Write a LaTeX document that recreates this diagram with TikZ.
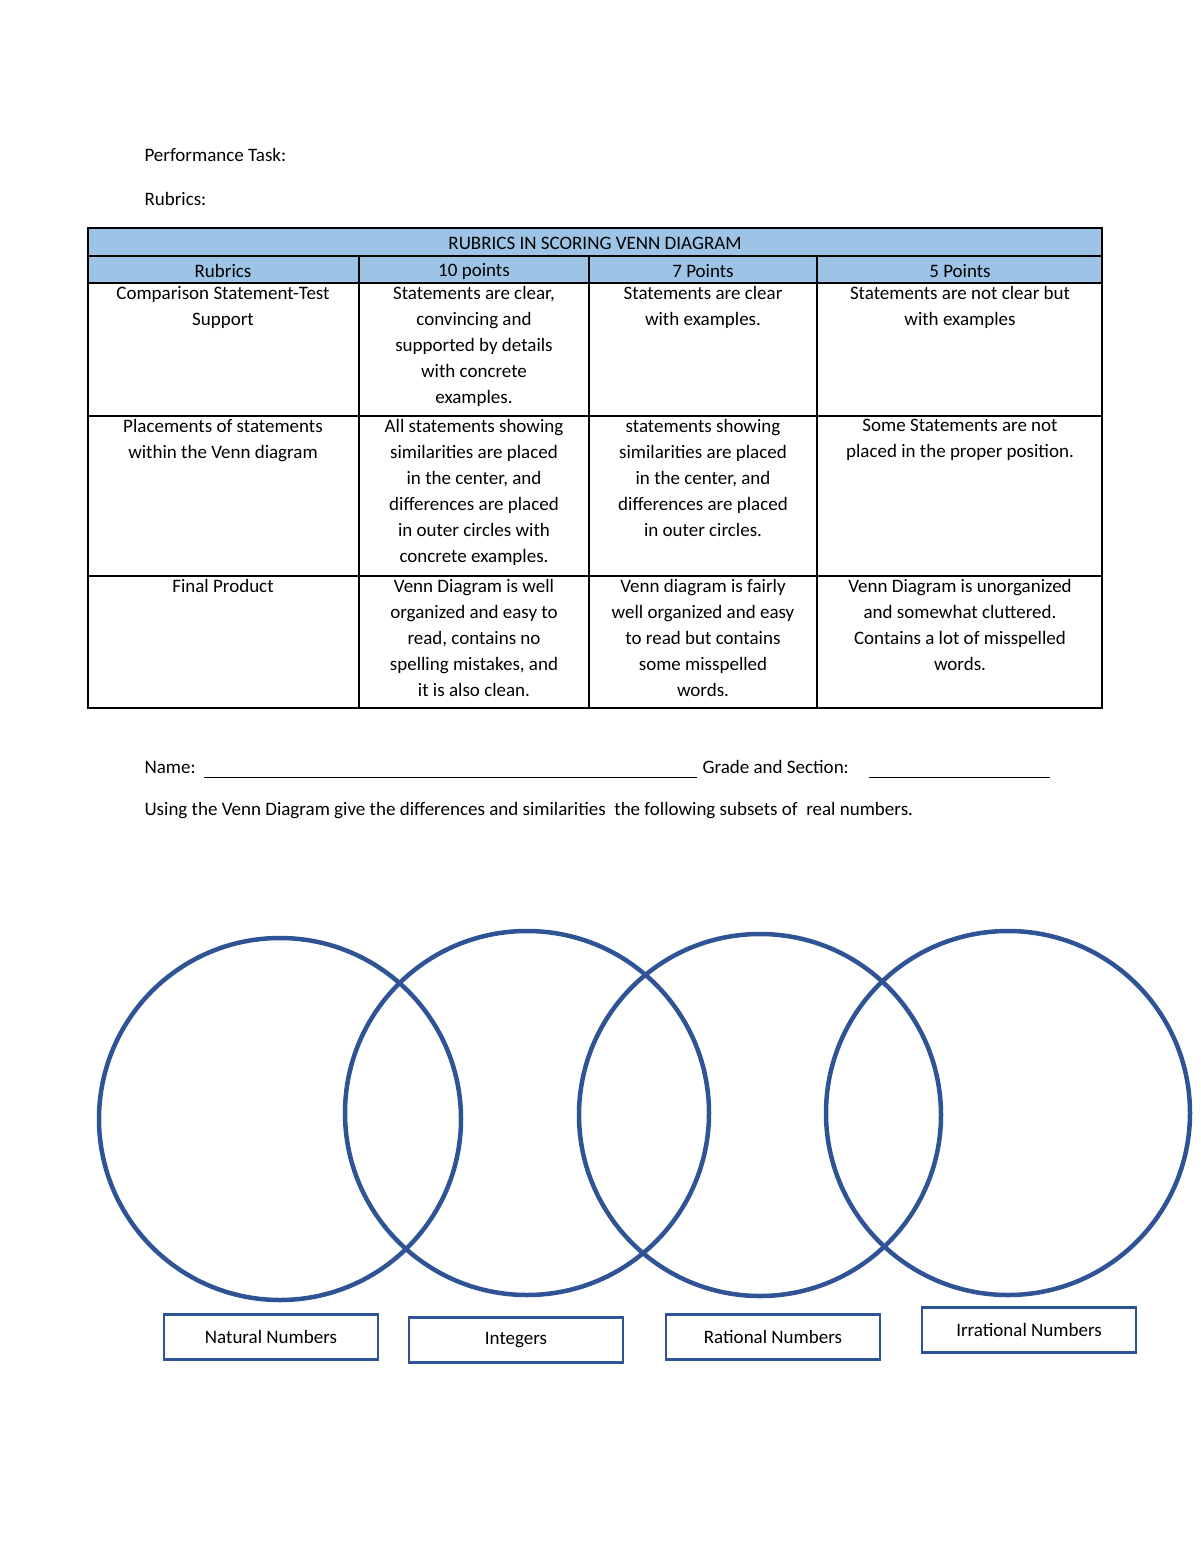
\documentclass[tikz,border=0pt]{standalone}
\usepackage{fontspec}
\setmainfont{Carlito}
\definecolor{hdr}{RGB}{157,195,230}
\definecolor{vb}{RGB}{47,84,150}
\begin{document}
\begin{tikzpicture}[x=1pt,y=-1pt,
 every node/.style={font=\fontsize{19}{26}\selectfont},
 cell/.style={align=center,anchor=north,inner sep=0pt},
 circ/.style={draw=vb,line width=4.5pt},
 lbox/.style={draw=vb,line width=2.5pt,minimum width=214pt,minimum height=45pt,inner sep=0pt}]
\useasboundingbox (0,0) rectangle (1200,1553);
\node[anchor=west] (pt) at (141,155) {Performance Task:};
\node[anchor=west] (rb) at (141,199) {Rubrics:};
% table
\fill[hdr] (88,228) rectangle (1102,283);
\draw[line width=1.2pt] (88,228) rectangle (1102,708);
\draw[line width=1.2pt] (88,256) -- (1102,256) (88,283) -- (1102,283) (88,416) -- (1102,416) (88,576) -- (1102,576);
\draw[line width=1.2pt] (359,256) -- (359,708) (589,256) -- (589,708) (817,256) -- (817,708);
\node (t) at (595,243) {RUBRICS IN SCORING VENN DIAGRAM};
\node (h1) at (223,271) {Rubrics};
\node (h2) at (474,271) {10 points};
\node (h3) at (703,271) {7 Points};
\node (h4) at (960,271) {5 Points};
\node[cell] (a1) at (223,286) {Comparison Statement-Test\\Support};
\node[cell] (a2) at (474,286) {Statements are clear,\\convincing and\\supported by details\\with concrete\\examples.};
\node[cell] (a3) at (703,286) {Statements are clear\\with examples.};
\node[cell] (a4) at (960,286) {Statements are not clear but\\with examples};
\node[cell] (b1) at (223,419) {Placements of statements\\within the Venn diagram};
\node[cell] (b2) at (474,419) {All statements showing\\similarities are placed\\in the center, and\\differences are placed\\in outer circles with\\concrete examples.};
\node[cell] (b3) at (703,419) {statements showing\\similarities are placed\\in the center, and\\differences are placed\\in outer circles.};
\node[cell] (b4) at (960,419) {Some Statements are not\\placed in the proper position.};
\node[cell] (c1) at (223,579) {Final Product};
\node[cell] (c2) at (474,579) {Venn Diagram is well\\organized and easy to\\read, contains no\\spelling mistakes, and\\it is also clean.};
\node[cell] (c3) at (703,579) {Venn diagram is fairly\\well organized and easy\\to read but contains\\some misspelled\\words.};
\node[cell] (c4) at (960,579) {Venn Diagram is unorganized\\and somewhat cluttered.\\Contains a lot of misspelled\\words.};
% name line
\node[anchor=west] (nm) at (141,767) {Name:};
\draw[line width=0.8pt] (204,777) -- (697,777);
\node[anchor=west] (gs) at (699,767) {Grade and Section:};
\draw[line width=0.8pt] (869,777) -- (1050,777);
\node[anchor=west] (ins) at (141,811) {Using the Venn Diagram give the differences and similarities\ \ the following subsets of\ \ real numbers.};
% circles
\draw[circ] (280,1119) circle[radius=181];
\draw[circ] (527,1113) circle[radius=182];
\draw[circ] (760,1115) circle[radius=181];
\draw[circ] (1008,1113) circle[radius=182];
\node[lbox] (n1) at (271,1337) {Natural Numbers};
\node[lbox] (n2) at (516,1340) {Integers};
\node[lbox] (n3) at (773,1337) {Rational Numbers};
\node[lbox] (n4) at (1029,1330) {Irrational Numbers};
\end{tikzpicture}
\end{document}
